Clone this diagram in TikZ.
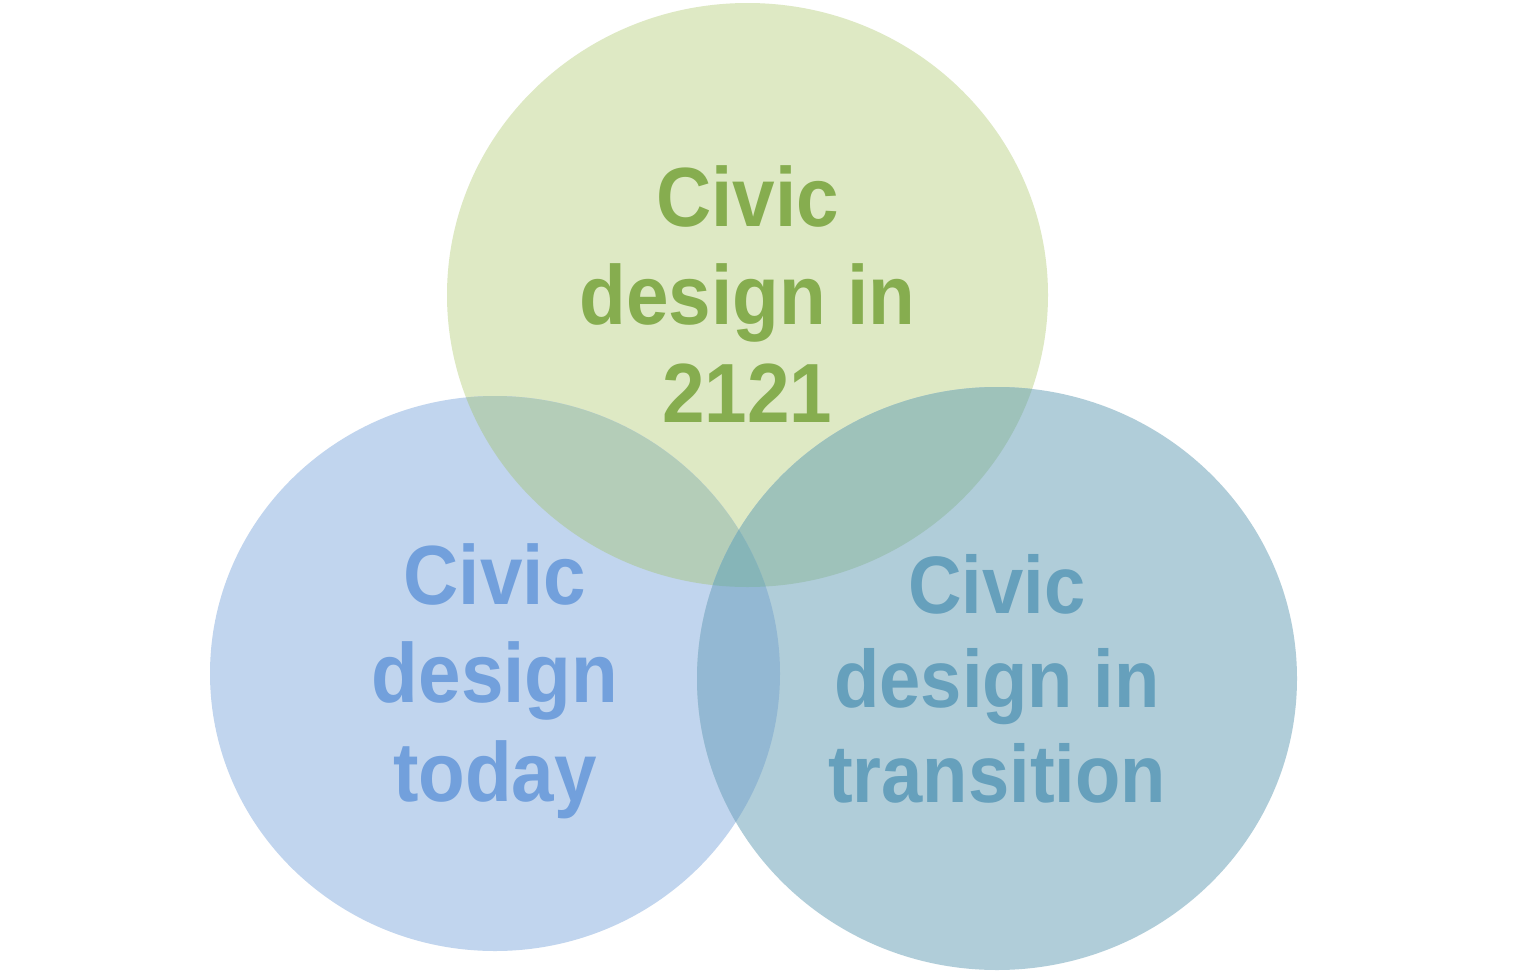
\documentclass[tikz,border=0pt]{standalone}
\usepackage{fontspec}
\newfontfamily\lblfont{Liberation Sans}[FakeStretch=0.91]
\definecolor{colG}{HTML}{DEE9C4}
\definecolor{colB}{HTML}{C1D5EE}
\definecolor{colT}{HTML}{B0CDD9}
\definecolor{colGB}{HTML}{B4CDB8}
\definecolor{colGT}{HTML}{9EC2BA}
\definecolor{colBT}{HTML}{93B8D3}
\definecolor{colGBT}{HTML}{86B5B8}
\definecolor{txtG}{HTML}{86AD4F}
\definecolor{txtB}{HTML}{72A0DC}
\definecolor{txtT}{HTML}{66A0BC}
\newcommand{\vennlabel}[3]{\vtop{\baselineskip=#2pt\lineskiplimit=-100pt\halign{\hfil##\hfil\cr#3}}}
\tikzset{
  ellG/.style={insert path={(747.5,295) ellipse [x radius=300.5pt, y radius=292pt]}},
  ellB/.style={insert path={(495,673.5) ellipse [x radius=285pt, y radius=277.5pt]}},
  ellT/.style={insert path={(997,678.5) ellipse [x radius=300pt, y radius=291.5pt]}},
  lbl/.style={inner sep=0pt, anchor=base, font=\lblfont\bfseries}
}
\begin{document}
\begin{tikzpicture}[x=1pt,y=-1pt]
\useasboundingbox (0,0) rectangle (1516,980);
\fill[white] (0,0) rectangle (1516,980);
% base ellipses
\fill[colG, ellG];
\fill[colB, ellB];
\fill[colT, ellT];
% pairwise overlaps
\begin{scope}
  \clip[ellG];
  \fill[colGB, ellB];
\end{scope}
\begin{scope}
  \clip[ellG];
  \fill[colGT, ellT];
\end{scope}
\begin{scope}
  \clip[ellB];
  \fill[colBT, ellT];
\end{scope}
\begin{scope}
  \clip[ellG];
  \clip[ellB];
  \fill[colGBT, ellT];
\end{scope}
% labels
\node[lbl, text=txtG, font=\lblfont\bfseries\fontsize{84}{98}\selectfont] (future) at (747.5,226)
  {\vennlabel{0}{98}{Civic\cr design in\cr 2121\cr}};
\node[lbl, text=txtB, font=\lblfont\bfseries\fontsize{84}{98}\selectfont] (today) at (495,604)
  {\vennlabel{0}{98.5}{Civic\cr design\cr today\cr}};
\node[lbl, text=txtT, font=\lblfont\bfseries\fontsize{81.5}{95}\selectfont] (transition) at (997,613)
  {\vennlabel{0}{94.5}{Civic\cr design in\cr transition\cr}};
\end{tikzpicture}
\end{document}
